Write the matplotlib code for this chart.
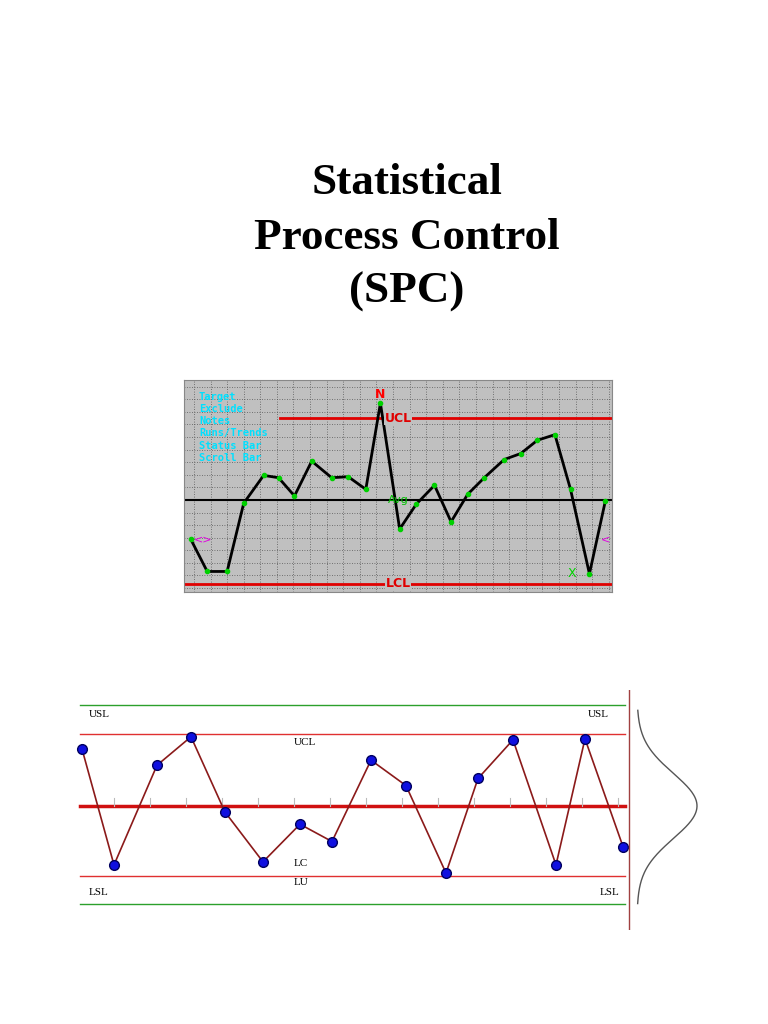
import numpy as np
import matplotlib.pyplot as plt

# --- top chart data (screen-like units, y up) ---
top_x = [20, 70, 130, 180, 240, 285, 333, 385, 445, 495, 548, 592, 650, 700,
         755, 805, 855, 905, 965, 1015, 1065, 1118, 1165, 1222, 1270]
top_y = [480, 578, 578, 372, 288, 295, 350, 245, 295, 292, 330, 70, 450, 375,
         318, 428, 345, 295, 240, 222, 182, 165, 330, 585, 365]
top_ucl, top_avg, top_lcl = 115, 363, 615
menu_items = ["Target", "Exclude", "Notes", "Runs/Trends", "Status Bar", "Scroll Bar"]

# --- bottom chart data ---
bot_vals = [56, -58, 40, 68, -6, -55, -18, -35, 45, 20, -66, 27, 65, -58, 66, -40]
bot_x = [82, 114, 157, 191, 225, 263, 300, 332, 371, 406, 446, 478, 513, 556, 585, 623]
usl, ucl, center, lcl, lsl = 99, 71, 0, -69, -96

fig = plt.figure(figsize=(7.68, 10.24), dpi=100)
W, H = 768, 1024

def px_axes(x0, y0, x1, y1):
    return fig.add_axes([x0 / W, 1 - y1 / H, (x1 - x0) / W, (y1 - y0) / H])

# title
for txt, y in [("Statistical", 183), ("Process Control", 238), ("(SPC)", 292)]:
    fig.text(407 / W, 1 - y / H, txt, ha='center', va='center', fontsize=32.5,
             fontweight='bold', family='Liberation Serif')

# --- top chart ---
ax = px_axes(184, 380, 612, 592)
ax.set_facecolor('#c0c0c0')
ax.set_xlim(0, 1290)
ax.set_ylim(640, 0)
for gx in np.arange(30, 1290, 50):
    ax.axvline(gx, color='#555555', lw=0.6, ls=(0, (1, 2)))
for gy in np.arange(20, 640, 38):
    ax.axhline(gy, color='#555555', lw=0.6, ls=(0, (1, 2)))
ax.plot([290, 1290], [top_ucl] * 2, color='#e00000', lw=2)
ax.plot([0, 1290], [top_lcl] * 2, color='#e00000', lw=2)
ax.axhline(top_avg, color='black', lw=1.5)
ax.text(645, top_ucl, "UCL", color='#e00000', fontsize=9, fontweight='bold',
        ha='center', va='center', bbox=dict(fc='#c0c0c0', ec='none', pad=0.5))
ax.text(645, top_lcl, "LCL", color='#e00000', fontsize=9, fontweight='bold',
        ha='center', va='center', bbox=dict(fc='#c0c0c0', ec='none', pad=0.5))
ax.text(645, top_avg, "Avg", color='#00c000', fontsize=8, ha='center', va='center')
ax.plot(top_x, top_y, color='black', lw=2)
ax.plot(top_x, top_y, 'o', color='#00d000', ms=3)
ax.text(592, 55, "N", color='red', fontsize=9, fontweight='bold', ha='center')
ax.text(1168, 585, "X", color='#00d000', fontsize=9, ha='center', va='center')
ax.text(30, 480, "<>", color='#e000e0', fontsize=8, va='center')
ax.text(1255, 480, "<", color='#e000e0', fontsize=8, va='center')
for i, m in enumerate(menu_items):
    ax.text(45, 50 + i * 37, m, color='#00e0ff', fontsize=7.5, fontweight='bold',
            family='DejaVu Sans Mono', va='center')
ax.set_xticks([]); ax.set_yticks([])
for s in ax.spines.values():
    s.set_color('#888888')

# --- bottom chart ---
bx = px_axes(70, 690, 710, 930)
bx.set_xlim(70, 710)
bx.set_ylim(-122, 114)
bx.axis('off')
bx.plot([80, 625], [usl] * 2, color='#2ca02c', lw=1)
bx.plot([80, 625], [lsl] * 2, color='#2ca02c', lw=1)
bx.plot([80, 625], [ucl] * 2, color='#e03030', lw=1)
bx.plot([80, 625], [lcl] * 2, color='#e03030', lw=1)
bx.plot([80, 625], [center] * 2, color='#d01010', lw=2.5)
for tx in np.arange(114, 625, 36):
    bx.plot([tx, tx], [0, 8], color='#bbbbbb', lw=0.8)
bx.plot(bot_x, bot_vals, color='#8b1a1a', lw=1.2)
bx.plot(bot_x, bot_vals, 'o', color='#1010e0', mec='#000060', ms=7)
bx.plot([629, 629], [-122, 114], color='#a04040', lw=1)
for t, x, y, ha in [("USL", 89, usl - 9, 'left'), ("USL", 609, usl - 9, 'right'),
                    ("LSL", 89, lsl + 11, 'left'), ("LSL", 619, lsl + 11, 'right'),
                    ("UCL", 294, ucl - 9, 'left'), ("LC", 294, lcl + 12, 'left'),
                    ("LU", 294, lcl - 6, 'left')]:
    bx.text(x, y, t, fontsize=8, family='Liberation Serif', ha=ha, va='center')
yy = np.linspace(-96, 94, 200)
bx.plot(637 + 60 * np.exp(-0.5 * (yy / 32) ** 2), yy, color='#555555', lw=1)

fig.savefig("out.png", dpi=100)
